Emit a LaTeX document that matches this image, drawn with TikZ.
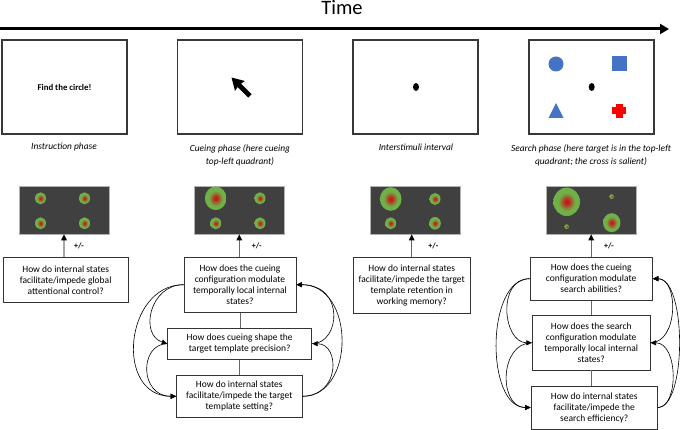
\documentclass[tikz,border=0pt]{standalone}
\usepackage{fontspec}
\setmainfont{Carlito}
\usetikzlibrary{arrows.meta,calc}
\definecolor{panelgray}{RGB}{64,64,64}
\definecolor{blobred}{RGB}{196,28,26}
\definecolor{blobgreen}{RGB}{112,176,72}
\definecolor{shapeblue}{RGB}{68,114,196}
\definecolor{crossred}{RGB}{255,0,0}
\pgfdeclareradialshading{blobshade}{\pgfpoint{0bp}{0bp}}{color(0bp)=(blobred); color(3bp)=(blobred); color(16bp)=(blobgreen); color(25bp)=(blobgreen); color(50bp)=(blobgreen)}
\begin{document}
\begin{tikzpicture}[x=1pt,y=-1pt,
  screen/.style={draw=black!78, line width=1.3pt, fill=white, minimum width=125pt, minimum height=94pt, inner sep=0pt},
  panel/.style={draw=black!30, line width=0.6pt, fill=panelgray, minimum width=90pt, minimum height=48pt, inner sep=0pt},
  qbox/.style={draw=black!80, line width=0.9pt, fill=white, align=center, font=\fontsize{9.5}{11}\selectfont, inner sep=0pt},
  caption/.style={align=center, font=\fontsize{9.4}{13.5}\selectfont\itshape},
  pm/.style={font=\fontsize{8}{9}\selectfont\bfseries},
  uparrow/.style={draw=black!60, line width=0.7pt, -{Triangle[length=6pt,width=5.5pt,color=black]}},
  loopar/.style={draw=black, line width=0.6pt, -{Triangle[length=5.5pt,width=5pt]}},
  link/.style={draw=black!60, line width=0.7pt},
  blob/.style={shading=blobshade}
]
\useasboundingbox (0,0) rectangle (685,430);

% time axis
\node[font=\fontsize{20.5}{22}\selectfont, inner sep=0pt] (time) at (342,8) {Time};
\coordinate (t0) at (0,29);
\coordinate (t1) at (669,29);
\draw[line width=3pt, -{Triangle[length=9pt,width=10pt]}] (t0) -- (t1);

% screens
\node[screen] (s1) at (64.5,87) {};
\node[screen] (s2) at (240,87) {};
\node[screen] (s3) at (415.5,87) {};
\node[screen] (s4) at (591.5,87) {};
\node[font=\fontsize{8.8}{10}\selectfont\bfseries] (find) at (s1.center) {Find the circle!};
% cursor arrow
\fill[black] (231.5,77.5) -- (244.94,81.04) -- (240.91,83.65) -- (251.51,94.25) -- (248.25,97.51) -- (237.65,86.91) -- (235.04,90.94) -- cycle;
% fixation dots
\fill[black] (416,87) ellipse [x radius=3pt, y radius=4pt];
\fill[black] (591.7,87) ellipse [x radius=3pt, y radius=4pt];
% search shapes
\fill[shapeblue] (556,64) circle [radius=7.5pt];
\fill[shapeblue] (611.5,56.5) rectangle (626.5,71.5);
\fill[shapeblue] (548.5,118) -- (563.5,118) -- (556,103) -- cycle;
\fill[crossred] (615.5,104) rectangle (622.5,118);
\fill[crossred] (612,107.5) rectangle (626,114.5);

% captions
\node[caption] (c1) at (64,147) {Instruction phase};
\node[caption, anchor=north] (c2) at (240,141) {Cueing phase (here cueing\\top-left quadrant)};
\node[caption] (c3) at (416,147) {Interstimuli interval};
\node[caption, anchor=north] (c4) at (591,141) {Search phase (here target is in the top-left\\quadrant; the cross is salient)};

% panels
\node[panel] (p1) at (64,210) {};
\node[panel] (p2) at (239.3,210) {};
\node[panel] (p3) at (415,210) {};
\node[panel] (p4) at (591.7,210) {};
% blobs panel 1
\shade[blob] (40.5,198.3) ellipse [x radius=5.5pt, y radius=6pt];
\shade[blob] (84.5,198.3) ellipse [x radius=5.5pt, y radius=6pt];
\shade[blob] (40.5,223.3) ellipse [x radius=5.5pt, y radius=6pt];
\shade[blob] (84.5,223.3) ellipse [x radius=5.5pt, y radius=6pt];
% blobs panel 2
\shade[blob] (215.7,198.3) ellipse [x radius=10.8pt, y radius=11.8pt];
\shade[blob] (260,198.3) ellipse [x radius=5.5pt, y radius=6pt];
\shade[blob] (215.7,223.3) ellipse [x radius=5.5pt, y radius=6pt];
\shade[blob] (260,223.3) ellipse [x radius=5.5pt, y radius=6pt];
% blobs panel 3
\shade[blob] (390.7,199) ellipse [x radius=10.8pt, y radius=11.8pt];
\shade[blob] (435,199) ellipse [x radius=5.5pt, y radius=6pt];
\shade[blob] (390.7,223.3) ellipse [x radius=5.5pt, y radius=6pt];
\shade[blob] (435,223.3) ellipse [x radius=5.8pt, y radius=6.3pt];
% blobs panel 4
\shade[blob] (566.7,201.8) ellipse [x radius=13.3pt, y radius=14.2pt];
\shade[blob] (611.7,196.7) ellipse [x radius=2.2pt, y radius=2.5pt];
\shade[blob] (566.7,226.7) ellipse [x radius=2.2pt, y radius=2.5pt];
\shade[blob] (611.7,222.7) ellipse [x radius=8.7pt, y radius=9.5pt];

% question boxes
\node[qbox, minimum width=124.7pt, minimum height=45pt] (q1) at (65.7,280) {How do internal states\\facilitate/impede global\\attentional control?};
\node[qbox, minimum width=112pt, minimum height=54.7pt] (q2a) at (240,284.7) {How does the cueing\\configuration modulate\\temporally local internal\\states?};
\node[qbox, minimum width=144pt, minimum height=31.3pt] (q2b) at (239.7,343.7) {How does cueing shape the\\target template precision?};
\node[qbox, minimum width=125.3pt, minimum height=42.7pt] (q2c) at (239.3,396.3) {How do internal states\\facilitate/impede the target\\template setting?};
\node[qbox, minimum width=116.7pt, minimum height=55.5pt] (q3) at (411.7,285.5) {How do internal states\\facilitate/impede the target\\template retention in\\working memory?};
\node[qbox, minimum width=122.3pt, minimum height=42.7pt] (q4a) at (591.2,278.7) {How does the cueing\\configuration modulate\\search abilities?};
\node[qbox, minimum width=117.7pt, minimum height=54.3pt] (q4b) at (591.2,342.8) {How does the search\\configuration modulate\\temporally local internal\\states?};
\node[qbox, minimum width=126.3pt, minimum height=43pt] (q4c) at (594.2,407.5) {How do internal states\\facilitate/impede the\\search efficiency?};

% up arrows and +/-
\draw[uparrow, draw=black!35, line width=1.3pt] (q1.north -| p1.south) -- (p1.south);
\draw[uparrow] (q2a.north -| p2.south) -- (p2.south);
\draw[uparrow] (q3.north) -- (q3.north |- p3.south);
\draw[uparrow] (q4a.north) -- (q4a.north |- p4.south);
\node[pm] (pm1) at (79,245.7) {+/-};
\node[pm] (pm2) at (256.7,245.7) {+/-};
\node[pm] (pm3) at (433.3,246) {+/-};
\node[pm] (pm4) at (609,246) {+/-};

% links between stacked boxes
\draw[link] (q2a.south) -- (q2a.south |- q2b.north);
\draw[link] (q2b.south) -- (q2b.south |- q2c.north);
\draw[link] (q4a.south) -- (q4a.south |- q4b.north);
\draw[link] (q4b.south) -- (q4b.south |- q4c.north);

% loops column 2, left
\draw[loopar] (q2a.west) .. controls ($(q2a.west)+(-34,0)$) and ($(q2b.west)+(-28,-9)$) .. (q2b.west);
\draw[loopar] (q2a.west) .. controls ($(q2a.west)+(-59,0)$) and ($(q2c.west)+(-62,0)$) .. (q2c.west);
\draw[loopar] (q2b.west) .. controls ($(q2b.west)+(-28,0)$) and ($(q2c.west)+(-37,0)$) .. (q2c.west);
% loops column 2, right
\draw[loopar] (q2c.east) .. controls ($(q2c.east)+(53,0)$) and ($(q2a.east)+(59,0)$) .. (q2a.east);
\draw[loopar] (q2c.east) .. controls ($(q2c.east)+(38,0)$) and ($(q2b.east)+(28,0)$) .. (q2b.east);
\draw[loopar] (q2b.east) .. controls ($(q2b.east)+(28,0)$) and ($(q2a.east)+(49,0)$) .. (q2a.east);
% loops column 4, left
\draw[loopar] (q4a.west) .. controls ($(q4a.west)+(-33,0)$) and ($(q4b.west)+(-29,0)$) .. (q4b.west);
\draw[loopar] (q4a.west) .. controls ($(q4a.west)+(-44,0)$) and ($(q4c.west)+(-45,0)$) .. (q4c.west);
\draw[loopar] (q4b.west) .. controls ($(q4b.west)+(-33,0)$) and ($(q4c.west)+(-32,0)$) .. (q4c.west);
% loops column 4, right
\draw[loopar] (q4c.east) .. controls ($(q4c.east)+(29,0)$) and ($(q4a.east)+(34,0)$) .. (q4a.east);
\draw[loopar] (q4c.east) .. controls ($(q4c.east)+(21,0)$) and ($(q4b.east)+(28,0)$) .. (q4b.east);
\draw[loopar] (q4b.east) .. controls ($(q4b.east)+(28,0)$) and ($(q4a.east)+(26,0)$) .. (q4a.east);
\end{tikzpicture}
\end{document}
